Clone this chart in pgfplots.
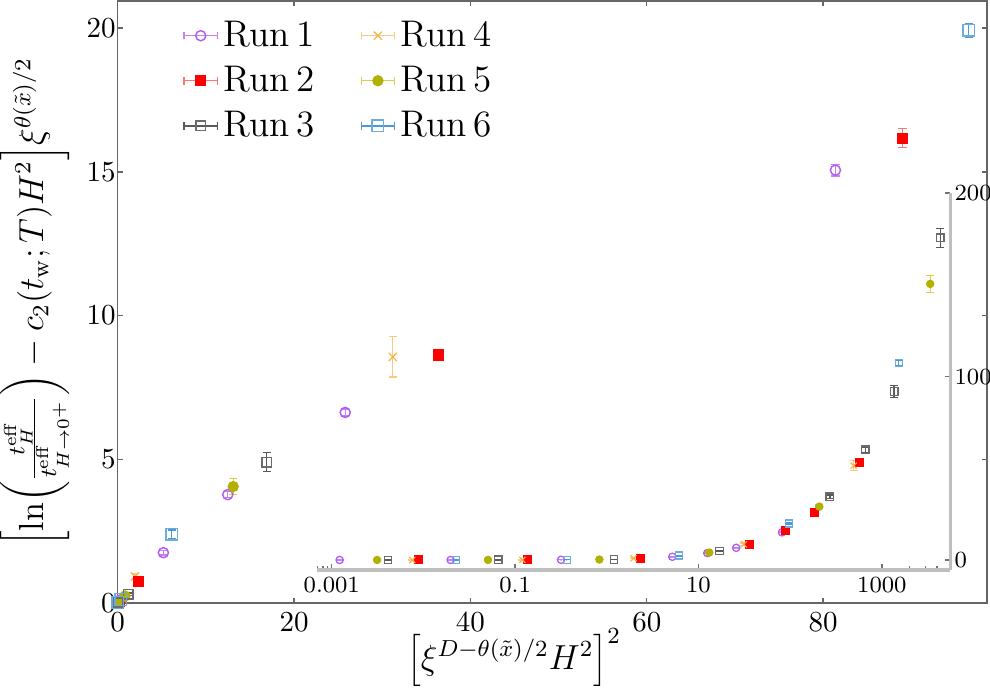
\documentclass[border=0pt]{standalone}
\usepackage{pgfplots}
\pgfplotsset{compat=1.18}
\usepackage{pgfplotstable}
\definecolor{cA}{rgb}{0.70,0.36,0.95}
\definecolor{cAe}{rgb}{0.78,0.50,0.97}
\definecolor{cB}{rgb}{1,0,0}
\definecolor{cBe}{rgb}{1,0.45,0.45}
\definecolor{cC}{rgb}{0.42,0.42,0.42}
\definecolor{cCe}{rgb}{0.35,0.35,0.35}
\definecolor{cD}{rgb}{0.96,0.70,0.25}
\definecolor{cDe}{rgb}{0.97,0.80,0.50}
\definecolor{cE}{rgb}{0.70,0.69,0.0}
\definecolor{cEe}{rgb}{0.85,0.82,0.30}
\definecolor{cF}{rgb}{0.42,0.68,0.88}
\definecolor{cFe}{rgb}{0.30,0.60,0.85}

\pgfplotstableread{
x y ey
0.00122 0.001 0.001
0.0198 0.012 0.002
0.317 0.11 0.01
5.18 1.75 0.08
12.48 3.77 0.1
25.8 6.63 0.12
81.4 15.06 0.2
}\runA
\pgfplotstableread{
x y ey
0.00873 0.007 0.001
0.138 0.06 0.005
2.34 0.74 0.06
36.4 8.63 0.15
89.0 16.17 0.33
182 26.0 0.8
575 53.3 1.2
}\runB
\pgfplotstableread{
x y ey
0.00411 0.004 0.001
0.0652 0.035 0.003
1.2 0.30 0.05
16.9 4.90 0.33
271 34.5 1.0
658 60.0 1.5
1361 91.8 3.2
4330 175.6 5.2
}\runC
\pgfplotstableread{
x y ey
0.00755 0.006 0.001
0.120 0.05 0.005
1.96 0.92 0.1
31.2 8.56 0.7
493 51.4 2.7
}\runD
\pgfplotstableread{
x y ey
0.00312 0.003 0.001
0.0506 0.03 0.003
0.83 0.24 0.04
13.1 4.05 0.28
208 29.1 0.8
3365 150.5 4.7
}\runE
\pgfplotstableread{
x y ey
0.0228 0.015 0.002
0.366 0.12 0.01
6.13 2.39 0.15
96.5 19.93 0.24
1525 107.3 1.5
}\runF

\pgfplotsset{
  errleg/.style={legend image code/.code={%
    \draw[#1,line width=0.5pt] (0pt,0pt)--(11.4pt,0pt) (0pt,-1.3pt)--(0pt,1.3pt) (11.4pt,-1.3pt)--(11.4pt,1.3pt);
    \draw[mark repeat=2,mark phase=2,##1] plot coordinates {(0pt,0pt)(5.7pt,0pt)(11.4pt,0pt)};
  }},
  eb/.style={error bars/y dir=both, error bars/y explicit,
    error bars/error bar style={color=#1, line width=0.45pt},
    error bars/error mark options={rotate=90, mark size=1.4pt, color=#1, line width=0.45pt}},
}

\begin{document}
\begin{tikzpicture}
\begin{axis}[name=main, at={(0,0)}, anchor=south west, scale only axis,
  width=299.9pt, height=207.7pt,
  xmin=0, xmax=98.6, ymin=0, ymax=20.95,
  clip=false,
  restrict x to domain=-1:99, restrict y to domain=-1:21.5,
  xtick={0,20,40,60,80}, ytick={0,5,10,15,20},
  tick align=inside, major tick length=1.8pt,
  axis line style={black!60, line width=0.5pt},
  tick style={black!60, line width=0.5pt},
  ticklabel style={font=\fontsize{10.2}{12}\selectfont},
  yticklabel style={xshift=2.8pt},
  label style={font=\fontsize{11.7}{14}\selectfont},
  xlabel={$\Bigl[\xi^{D-\theta(\tilde{x})/2}H^2\Bigr]^2$},
  ylabel={$\biggl[\ln\biggl(\frac{t_H^{\mathrm{eff}}}{t_{H\to0^+}^{\mathrm{eff}}}\biggr)-c_2(t_{\mathrm{w}};T)H^2\biggr]\xi^{\theta(\tilde{x})/2}$},
  xlabel style={at={(ticklabel cs:0.456)}, yshift=8pt},
  ylabel style={at={(axis description cs:-0.044,0.5)}, anchor=south},
  legend columns=2,
  legend style={at={(0.065,0.987)}, anchor=north west, draw=none, fill=none,
    font=\fontsize{12.8}{14}\selectfont, row sep=1.3pt,
    /tikz/every even column/.append style={column sep=14pt}},
  legend cell align=left,
]
\addplot[only marks, mark=o, mark size=1.75pt, color=cA, mark options={line width=0.5pt}, eb=cAe, errleg=cAe] table[x=x,y=y,y error=ey]{\runA};
\addlegendentry{Run\,1}
\addplot[only marks, mark=x, mark size=2pt, color=cD, eb=cDe, errleg=cDe] table[x=x,y=y,y error=ey]{\runD};
\addlegendentry{Run\,4}
\addplot[only marks, mark=square*, mark size=1.75pt, color=cB, eb=cBe, errleg=cBe] table[x=x,y=y,y error=ey]{\runB};
\addlegendentry{Run\,2}
\addplot[only marks, mark=*, mark size=1.75pt, color=cE, eb=cEe, errleg=cEe] table[x=x,y=y,y error=ey]{\runE};
\addlegendentry{Run\,5}
\addplot[only marks, mark=square, mark size=1.6pt, color=cC, mark options={line width=0.5pt}, eb=cCe, errleg=cCe] table[x=x,y=y,y error=ey]{\runC};
\addlegendentry{Run\,3}
\addplot[only marks, mark=square, mark size=2pt, color=cF, mark options={line width=0.5pt}, eb=cFe, errleg=cFe] table[x=x,y=y,y error=ey]{\runF};
\addlegendentry{Run\,6}
\end{axis}

\begin{axis}[at={(68.66pt,11.385pt)}, anchor=south west, scale only axis,
  width=218.5pt, height=130.0pt,
  xmode=log, xmin=0.000686, xmax=5560, ymin=-5.45, ymax=200,
  axis x line*=bottom, axis y line*=right,
  axis line style={-, black!25, line width=1.1pt},
  xtick={0.001,0.1,10,1000}, xticklabels={$0.001$,$0.1$,$10$,$1000$},
  minor xtick={0.0007,0.0008,0.0009,2000,3000,4000},
  ytick={0,100,200},
  tick align=inside, major tick length=1.9pt, minor tick length=1.2pt,
  tick style={black!55, line width=0.45pt},
  ticklabel style={font=\fontsize{7.6}{9}\selectfont},
  yticklabel style={xshift=-2pt},
  xticklabel style={yshift=1pt},
]
\addplot[only marks, mark=o, mark size=1.25pt, color=cA, mark options={line width=0.45pt}, eb=cAe] table[x=x,y=y,y error=ey]{\runA};
\addplot[only marks, mark=square*, mark size=1.35pt, color=cB, eb=cBe] table[x=x,y=y,y error=ey]{\runB};
\addplot[only marks, mark=x, mark size=1.5pt, color=cD, eb=cDe] table[x=x,y=y,y error=ey]{\runD};
\addplot[only marks, mark=*, mark size=1.25pt, color=cE, eb=cEe] table[x=x,y=y,y error=ey]{\runE};
\addplot[only marks, mark=square, mark size=1.3pt, color=cC, mark options={line width=0.45pt}, eb=cCe] table[x=x,y=y,y error=ey]{\runC};
\addplot[only marks, mark=square, mark size=1.2pt, color=cF, mark options={line width=0.45pt}, eb=cFe] table[x=x,y=y,y error=ey]{\runF};
\end{axis}
\pgfresetboundingbox
\path[use as bounding box] (-40.6pt,-29.0pt) rectangle (300.9pt,208.0pt);
\end{tikzpicture}
\end{document}
